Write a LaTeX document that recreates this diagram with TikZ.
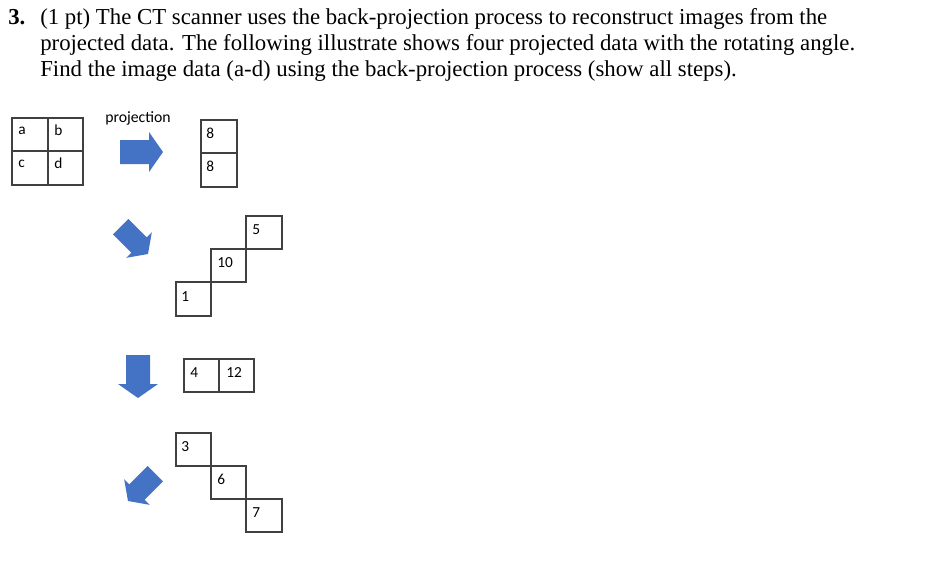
\documentclass[tikz,border=0pt]{standalone}
\usepackage{fontspec}
\setmainfont{Liberation Serif}
\newfontfamily\carlitofont{Carlito}
\definecolor{ablue}{HTML}{4472C4}
\begin{document}
\begin{tikzpicture}[x=0.75pt,y=-0.75pt,
  qtext/.style={anchor=base west,inner sep=0,font=\fontsize{17.1}{20}\selectfont},
  cell/.style={draw=black!75,line width=0.8pt},
  lab/.style={anchor=north west,inner sep=0,font=\carlitofont\fontsize{11.5}{13}\selectfont},
  bluearrow/.style={fill=ablue}]
\useasboundingbox (0,0) rectangle (926,568);
\node[qtext] (n3) at (8,24) {\textbf{3.}};
\node[qtext] (l1) at (40,24) {(1 pt) The CT scanner uses the back-projection process to reconstruct images from the};
\node[qtext] (l2) at (40,50) {projected data. The following illustrate shows four projected data with the rotating angle.};
\node[qtext] (l3) at (40,76) {Find the image data (a-d) using the back-projection process (show all steps).};
% abcd grid
\draw[cell] (12,118) rectangle (83,185);
\draw[cell] (48,118) -- (48,185) (12,151) -- (83,151);
\node[lab] (a) at (18,127) {a};
\node[lab] (b) at (54,125) {b};
\node[lab] (c) at (18,160) {c};
\node[lab] (d) at (54,158) {d};
\node[lab,font=\carlitofont\fontsize{11.8}{13}\selectfont] (proj) at (105,111) {projection};
% arrows
\newcommand{\barrow}[3]{\fill[ablue,shift={(#1)},rotate=#2,scale=#3] (-21,-12) -- (8,-12) -- (8,-20) -- (22,0) -- (8,20) -- (8,12) -- (-21,12) -- cycle;}
\barrow{141,152}{0}{1}
\barrow{134,240}{-45}{0.9}
\barrow{138,376}{-90}{1}
\barrow{142,487}{-135}{0.9}
% 8 8
\draw[cell] (201,120) rectangle (237,187);
\draw[cell] (201,153) -- (237,153);
\node[lab] (e1) at (206,128) {8};
\node[lab] (e2) at (206,161) {8};
% 5 10 1
\draw[cell] (246,216) rectangle (282,249);
\draw[cell] (211,249) rectangle (246,282);
\draw[cell] (176,282) rectangle (211,316);
\node[lab] (f1) at (252,224) {5};
\node[lab] (f2) at (217,257) {10};
\node[lab] (f3) at (181,291) {1};
% 4 12
\draw[cell] (184,359) rectangle (254,392);
\draw[cell] (219,359) -- (219,392);
\node[lab] (g1) at (190,367) {4};
\node[lab] (g2) at (226,367) {12};
% 3 6 7
\draw[cell] (176,433) rectangle (211,466);
\draw[cell] (211,466) rectangle (246,499);
\draw[cell] (246,499) rectangle (282,532);
\node[lab] (h1) at (181,441) {3};
\node[lab] (h2) at (217,474) {6};
\node[lab] (h3) at (252,507) {7};
\end{tikzpicture}
\end{document}
